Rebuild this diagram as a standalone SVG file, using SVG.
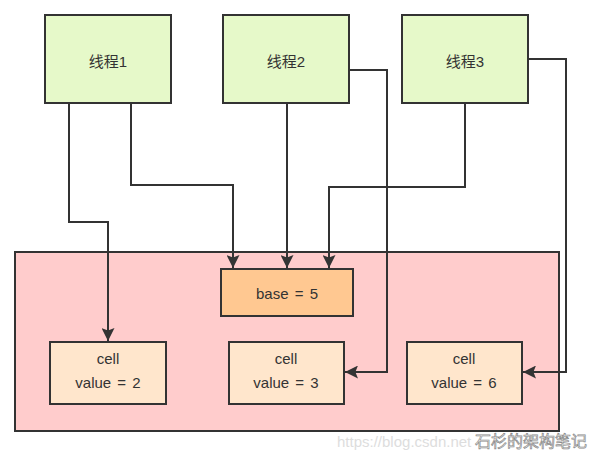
<svg xmlns="http://www.w3.org/2000/svg" width="591" height="458" viewBox="0 0 591 458">
<defs>
<style>
.box{stroke:#333;stroke-width:2}
.thread{fill:#e6f9c9}
.outer{fill:#ffcccc}
.base{fill:#ffc891}
.cell{fill:#ffe6cc}
.t{font-family:"Liberation Sans","Noto Sans CJK SC",sans-serif;font-size:15px;fill:#333;text-anchor:middle;dominant-baseline:central}
.v{word-spacing:2px}
.c{fill:none;stroke:#333;stroke-width:2}
.wm{font-family:"Liberation Sans","Noto Sans CJK SC",sans-serif;font-size:16px;fill:#ffffff;fill-opacity:0.6;stroke:#888;stroke-width:0.7}
</style>
<marker id="ah" viewBox="0 0 10 10" refX="10" refY="5" markerWidth="7.5" markerHeight="6.5" orient="auto" markerUnits="strokeWidth">
<path d="M0,0 L10,5 L0,10 L2,5 Z" fill="#333"/>
</marker>
</defs>
<rect width="591" height="458" fill="#fff"/>
<g id="container">
<rect class="box outer" x="15" y="252" width="544" height="179"/>
</g>
<g id="thread1">
<rect class="box thread" x="45" y="15" width="126" height="88"/>
<text class="t" x="108" y="61">线程1</text>
</g>
<g id="thread2">
<rect class="box thread" x="223" y="15" width="126" height="88"/>
<text class="t" x="286" y="61">线程2</text>
</g>
<g id="thread3">
<rect class="box thread" x="402" y="15" width="126" height="88"/>
<text class="t" x="465" y="61">线程3</text>
</g>
<g id="base">
<rect class="box base" x="221" y="269" width="132" height="47"/>
<text class="t v" x="287" y="293">base = 5</text>
</g>
<g id="cell1">
<rect class="box cell" x="50" y="342" width="116" height="62"/>
<text class="t" x="108" y="358">cell</text>
<text class="t v" x="108" y="382">value = 2</text>
</g>
<g id="cell2">
<rect class="box cell" x="229" y="342" width="115" height="62"/>
<text class="t" x="286" y="358">cell</text>
<text class="t v" x="286" y="382">value = 3</text>
</g>
<g id="cell3">
<rect class="box cell" x="407" y="342" width="115" height="62"/>
<text class="t" x="464" y="358">cell</text>
<text class="t v" x="464" y="382">value = 6</text>
</g>
<g id="connectors">
<path class="c" d="M69,103 V222 H108 V341" marker-end="url(#ah)"/>
<path class="c" d="M131,103 V185 H233 V268" marker-end="url(#ah)"/>
<path class="c" d="M287,103 V268" marker-end="url(#ah)"/>
<path class="c" d="M465,103 V187 H329 V268" marker-end="url(#ah)"/>
<path class="c" d="M349,70 H387 V372 H345" marker-end="url(#ah)"/>
<path class="c" d="M528,59 H566 V372 H523" marker-end="url(#ah)"/>
</g>
<g id="watermark">
<text x="337" y="447" style="font-family:'Liberation Sans',sans-serif;fill:#ddd;font-size:15px">https://blog.csdn.net</text>
<text class="wm" x="475" y="447">石杉的架构笔记</text>
</g>
</svg>
